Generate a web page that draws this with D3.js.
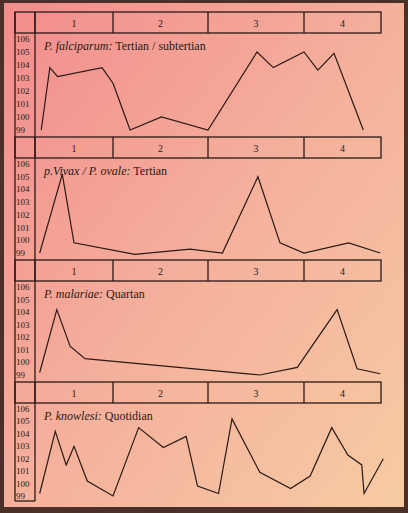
<!DOCTYPE html><html><head><script src="https://cdn.jsdelivr.net/npm/d3@7"></script>
<style>body{margin:0;background:#4a3029}</style></head><body><script>
const days=["1","2","3","4"];
const yTicks=[99,100,101,102,103,104,105,106];
const species=["P. falciparum:","p.Vivax / P. ovale:","P. malariae:","P. knowlesi:"];
const patterns=["Tertian / subtertian","Tertian","Quartan","Quotidian"];
const fX=[0.08,0.19,0.29,0.86,1.0,1.18,1.51,2.0,2.51,2.68,3.0,3.18,3.39,3.77];
const fY=[99,103.8,103.1,103.8,102.6,99,100,99,105,103.8,105,103.6,104.9,99];
const vX=[0.06,0.35,0.5,1.23,1.81,2.15,2.52,2.75,3.0,3.58,3.99];
const vY=[99,105.2,99.8,98.9,99.3,99,105,99.8,99,99.8,99];
const mX=[0.06,0.28,0.45,0.64,2.54,2.93,3.43,3.69,3.99];
const mY=[99.2,104.2,101.3,100.3,99,99.6,104.2,99.5,99.1];
const kX=[0.06,0.26,0.40,0.5,0.67,1.0,1.27,1.53,1.77,1.89,2.11,2.25,2.54,2.86,3.08,3.36,3.57,3.75,3.78,4.03];
const kY=[99.2,104.2,101.5,103,100.2,99,104.5,102.9,103.8,99.8,99.2,105.2,100.9,99.6,100.6,104.5,102.3,101.5,99.2,102];
const series=[[fX,fY],[vX,vY],[mX,mY],[kX,kY]];
const W=408,H=513;
const svg=d3.select("body").append("svg").attr("width",W).attr("height",H);
const defs=svg.append("defs");
const g=defs.append("linearGradient").attr("id","bg").attr("x1","0").attr("y1","0").attr("x2","1").attr("y2","1");
g.append("stop").attr("offset","0").attr("stop-color","#f28c8c");
g.append("stop").attr("offset","0.5").attr("stop-color","#f5b09c");
g.append("stop").attr("offset","1").attr("stop-color","#f6cba4");
svg.append("rect").attr("x",4).attr("y",3).attr("width",W-8).attr("height",H-9).attr("fill","url(#bg)");
const x=d3.scaleLinear().domain([0,1,2,3,4]).range([35,113,208,304,381]);
const hdrTop=[12,137,260,382], hh=21;
const ink="#2a1a16";
svg.append("line").attr("x1",15).attr("x2",15).attr("y1",12).attr("y2",501).attr("stroke",ink).attr("stroke-width",1.3);
svg.append("line").attr("x1",35).attr("x2",35).attr("y1",12).attr("y2",501).attr("stroke",ink).attr("stroke-width",1.3);
svg.append("line").attr("x1",15).attr("x2",35).attr("y1",501).attr("y2",501).attr("stroke",ink).attr("stroke-width",1.3);
hdrTop.forEach((t,i)=>{
  svg.append("rect").attr("x",15).attr("y",t).attr("width",366).attr("height",hh).attr("fill","none").attr("stroke",ink).attr("stroke-width",1.3);
  d3.range(4).forEach(d=>{
    svg.append("line").attr("x1",x(d)).attr("x2",x(d)).attr("y1",t).attr("y2",t+hh).attr("stroke",ink).attr("stroke-width",1.3);
    svg.append("text").attr("x",(x(d)+x(d+1))/2).attr("y",t+14.5).attr("text-anchor","middle")
      .attr("font-family","Liberation Serif").attr("font-size",10).attr("fill",ink).text(days[d]);
  });
  const yb=i<3?hdrTop[i+1]-7:496;
  const y=d3.scaleLinear().domain([99,106]).range([yb,t+hh+6]);
  yTicks.forEach(v=>svg.append("text").attr("x",16).attr("y",y(v)+3).attr("font-family","Liberation Serif")
     .attr("font-size",9).attr("fill",ink).text(v));
  const tt=svg.append("text").attr("x",44).attr("y",t+hh+17).attr("font-family","Liberation Serif").attr("font-size",12).attr("fill",ink);
  tt.append("tspan").attr("font-style","italic").text(species[i]);
  tt.append("tspan").text(" "+patterns[i]);
  const [xs,ys]=series[i];
  svg.append("path").datum(xs.map((d,j)=>[d,ys[j]])).attr("fill","none").attr("stroke",ink).attr("stroke-width",1.2)
    .attr("d",d3.line().x(d=>x(d[0])).y(d=>y(d[1])));
});
</script></body></html>
